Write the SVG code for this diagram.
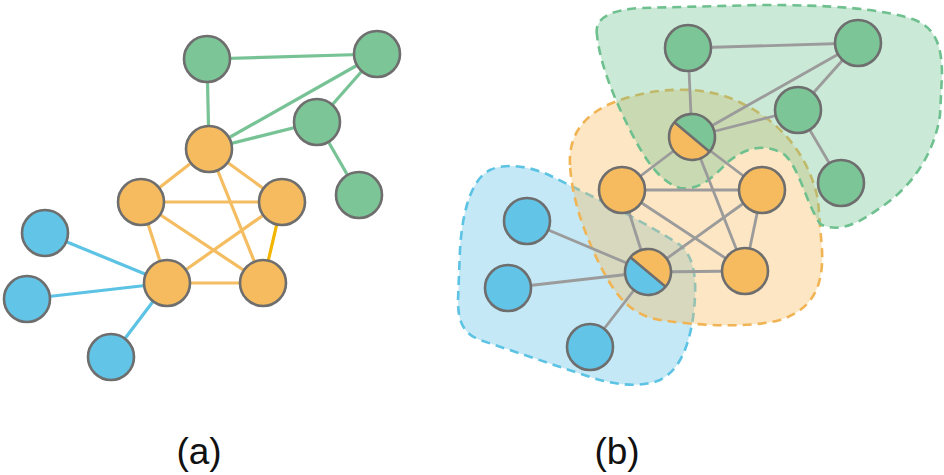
<svg xmlns="http://www.w3.org/2000/svg" width="944" height="475" viewBox="0 0 944 475">
<style>
.n{stroke:#6e6e6e;stroke-width:2.6}
.g{fill:#7cc597}
.o{fill:#f6bb5e}
.b{fill:#62c4e6}
.eg{stroke:#78c396;stroke-width:3.2}
.eo{stroke:#f5bd62;stroke-width:3.2}
.eb{stroke:#5cc3e4;stroke-width:3.2}
.ey{stroke:#f2b500;stroke-width:3.2}
.e{stroke:#9b9b9b;stroke-width:2.8}
.reg{stroke-width:2.6;stroke-dasharray:9 6}
.lbl{font-family:"Liberation Sans",Arial,sans-serif;font-size:37px;fill:#111;text-anchor:middle}
</style>
<rect width="944" height="475" fill="#fff"/>
<g id="regions">
<path id="region-blue" class="reg" fill="rgb(100,195,230)" fill-opacity="0.38" stroke="#5cc3e4" d="M 458,300 L 460,250 C 462,215 470,180 490,170 C 505,163 530,165 555,178 C 600,200 650,225 680,245 C 695,258 697,280 694,310 C 690,345 680,370 660,380 C 640,388 615,385 590,377 L 480,340 C 462,333 458,320 458,300 Z"/>
<path id="region-orange" class="reg" fill="rgb(248,190,100)" fill-opacity="0.38" stroke="#f0b455" d="M 570,165 C 568,130 590,110 620,100 C 660,86 710,85 745,105 C 785,125 810,160 818,200 L 822,250 C 824,290 810,310 780,320 C 750,328 700,326 660,320 C 630,315 615,295 600,265 C 585,235 572,200 570,165 Z"/>
<path id="region-green" class="reg" fill="rgb(110,195,145)" fill-opacity="0.36" stroke="#6fc08f" d="M 597,35 C 594,18 610,10 640,8 L 760,5 C 830,5 880,8 915,20 C 935,28 942,45 942,75 L 940,115 C 935,150 915,185 880,208 C 860,222 840,234 820,224 C 805,200 800,170 785,155 C 765,142 745,148 728,162 C 710,180 700,190 680,188 C 660,182 645,160 630,130 C 615,100 600,65 597,35 Z"/>
</g>
<g id="connectors">
<line class="eg" x1="207" y1="59" x2="377" y2="54"/>
<line class="eg" x1="207" y1="59" x2="209" y2="149"/>
<line class="eg" x1="377" y1="54" x2="209" y2="149"/>
<line class="eg" x1="377" y1="54" x2="317" y2="122"/>
<line class="eg" x1="317" y1="122" x2="209" y2="149"/>
<line class="eg" x1="317" y1="122" x2="359" y2="195"/>
<line class="eo" x1="209" y1="149" x2="141" y2="202"/>
<line class="eo" x1="209" y1="149" x2="282" y2="202"/>
<line class="eo" x1="209" y1="149" x2="263" y2="283"/>
<line class="eo" x1="141" y1="202" x2="282" y2="202"/>
<line class="eo" x1="141" y1="202" x2="167" y2="283"/>
<line class="eo" x1="141" y1="202" x2="263" y2="283"/>
<line class="eo" x1="282" y1="202" x2="167" y2="283"/>
<line class="ey" x1="282" y1="202" x2="263" y2="283"/>
<line class="eo" x1="167" y1="283" x2="263" y2="283"/>
<line class="eb" x1="45" y1="233" x2="167" y2="283"/>
<line class="eb" x1="27" y1="299" x2="167" y2="283"/>
<line class="eb" x1="111" y1="357" x2="167" y2="283"/>
<line class="e" x1="688" y1="48" x2="858" y2="43"/>
<line class="e" x1="688" y1="48" x2="692" y2="137"/>
<line class="e" x1="858" y1="43" x2="692" y2="137"/>
<line class="e" x1="858" y1="43" x2="798" y2="110"/>
<line class="e" x1="798" y1="110" x2="692" y2="137"/>
<line class="e" x1="798" y1="110" x2="841" y2="183"/>
<line class="e" x1="692" y1="137" x2="622" y2="190"/>
<line class="e" x1="692" y1="137" x2="762" y2="190"/>
<line class="e" x1="692" y1="137" x2="745" y2="271"/>
<line class="e" x1="622" y1="190" x2="762" y2="190"/>
<line class="e" x1="622" y1="190" x2="648" y2="272"/>
<line class="e" x1="622" y1="190" x2="745" y2="271"/>
<line class="e" x1="762" y1="190" x2="648" y2="272"/>
<line class="e" x1="762" y1="190" x2="745" y2="271"/>
<line class="e" x1="648" y1="272" x2="745" y2="271"/>
<line class="e" x1="527" y1="221" x2="648" y2="272"/>
<line class="e" x1="508" y1="288" x2="648" y2="272"/>
<line class="e" x1="590" y1="347" x2="648" y2="272"/>
</g>
<g id="a-g1"><circle class="n g" cx="207" cy="59" r="23"/></g>
<g id="a-g2"><circle class="n g" cx="377" cy="54" r="23"/></g>
<g id="a-g3"><circle class="n g" cx="317" cy="122" r="23"/></g>
<g id="a-g4"><circle class="n g" cx="359" cy="195" r="23"/></g>
<g id="a-o1"><circle class="n o" cx="209" cy="149" r="23"/></g>
<g id="a-o2"><circle class="n o" cx="141" cy="202" r="23"/></g>
<g id="a-o3"><circle class="n o" cx="282" cy="202" r="23"/></g>
<g id="a-o4"><circle class="n o" cx="167" cy="283" r="23"/></g>
<g id="a-o5"><circle class="n o" cx="263" cy="283" r="23"/></g>
<g id="a-b1"><circle class="n b" cx="45" cy="233" r="23"/></g>
<g id="a-b2"><circle class="n b" cx="27" cy="299" r="23"/></g>
<g id="a-b3"><circle class="n b" cx="111" cy="357" r="23"/></g>
<g id="b-g1"><circle class="n g" cx="688" cy="48" r="23"/></g>
<g id="b-g2"><circle class="n g" cx="858" cy="43" r="23"/></g>
<g id="b-g3"><circle class="n g" cx="798" cy="110" r="23"/></g>
<g id="b-g4"><circle class="n g" cx="841" cy="183" r="23"/></g>
<g id="b-go" transform="rotate(40 692 137)">
<path class="g" d="M 669,137 A 23 23 0 0 1 715,137 Z"/>
<path class="o" d="M 669,137 A 23 23 0 0 0 715,137 Z"/>
<line x1="669" y1="137" x2="715" y2="137" stroke="#6e6e6e" stroke-width="2.5"/>
<circle class="n" fill="none" cx="692" cy="137" r="23"/>
</g>
<g id="b-o2"><circle class="n o" cx="622" cy="190" r="23"/></g>
<g id="b-o3"><circle class="n o" cx="762" cy="190" r="23"/></g>
<g id="b-bo" transform="rotate(40 648 272)">
<path class="o" d="M 625,272 A 23 23 0 0 1 671,272 Z"/>
<path class="b" d="M 625,272 A 23 23 0 0 0 671,272 Z"/>
<line x1="625" y1="272" x2="671" y2="272" stroke="#6e6e6e" stroke-width="2.5"/>
<circle class="n" fill="none" cx="648" cy="272" r="23"/>
</g>
<g id="b-o5"><circle class="n o" cx="745" cy="271" r="23"/></g>
<g id="b-b1"><circle class="n b" cx="527" cy="221" r="23"/></g>
<g id="b-b2"><circle class="n b" cx="508" cy="288" r="23"/></g>
<g id="b-b3"><circle class="n b" cx="590" cy="347" r="23"/></g>
<text class="lbl" x="199" y="464">(a)</text>
<text class="lbl" x="617" y="464">(b)</text>
</svg>
